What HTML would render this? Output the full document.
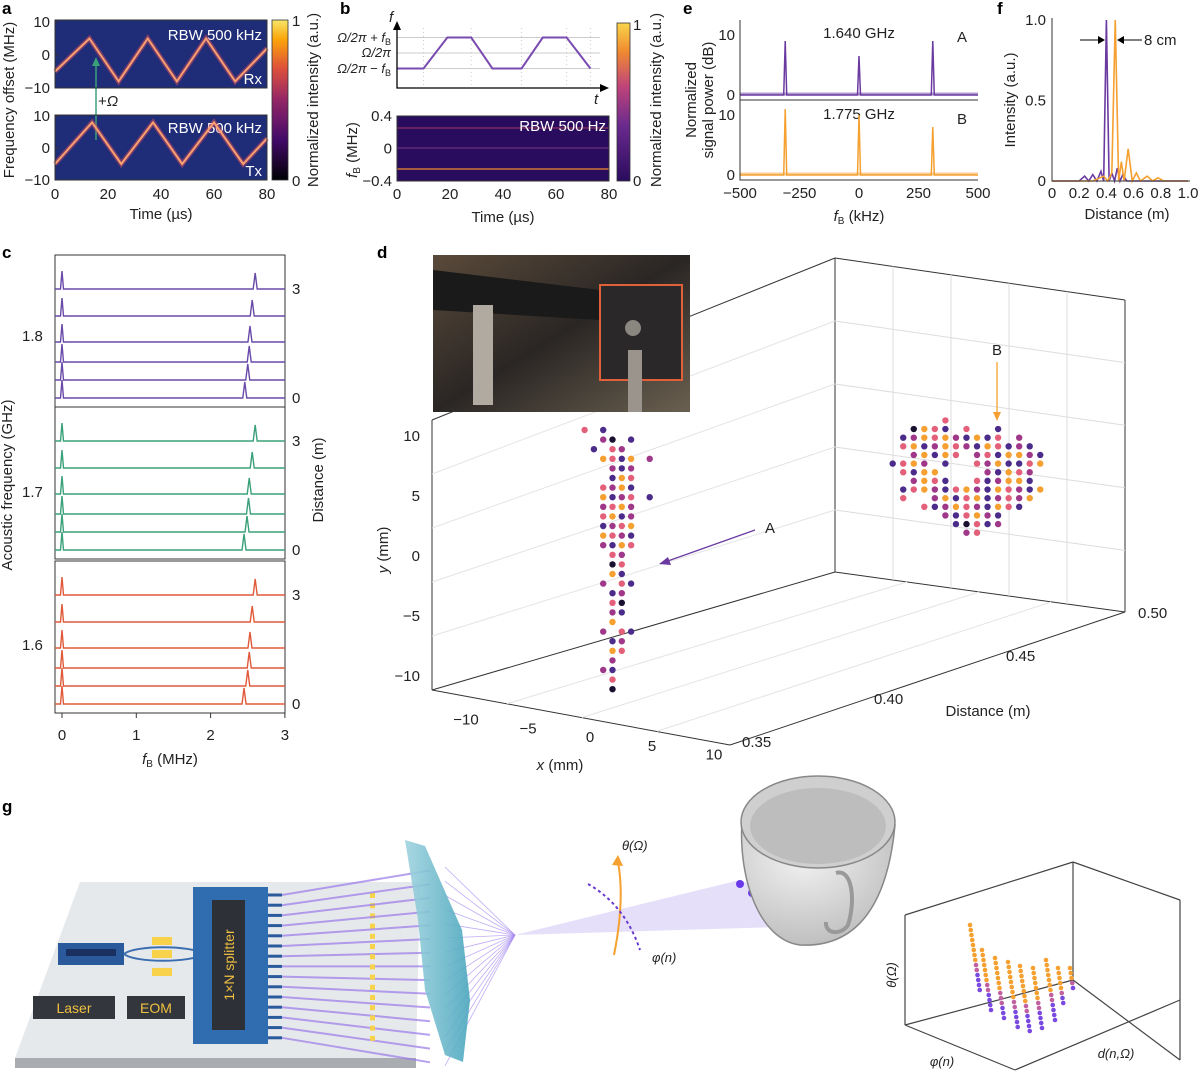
<!DOCTYPE html>
<html><head><meta charset="utf-8">
<style>
html,body{margin:0;padding:0;background:#fff;}
svg{display:block;font-family:"Liberation Sans",Arial,sans-serif;}
.t{font-size:15px;fill:#222;}
.s{font-size:13px;fill:#222;}
.lab{font-size:17px;font-weight:bold;fill:#000;}
.ax{stroke:#333;stroke-width:1.2;fill:none;}
</style></head><body>
<svg id="fig" width="1200" height="1071" viewBox="0 0 1200 1071">
<defs>
<linearGradient id="cbA" x1="0" y1="1" x2="0" y2="0">
<stop offset="0" stop-color="#000004"/><stop offset="0.25" stop-color="#420a68"/><stop offset="0.5" stop-color="#932667"/><stop offset="0.7" stop-color="#dd513a"/><stop offset="0.88" stop-color="#fca50a"/><stop offset="1" stop-color="#f6e66a"/>
</linearGradient>
<linearGradient id="cbB" x1="0" y1="1" x2="0" y2="0">
<stop offset="0" stop-color="#2a0c5e"/><stop offset="0.35" stop-color="#6a2a8e"/><stop offset="0.6" stop-color="#c0447a"/><stop offset="0.82" stop-color="#f08a30"/><stop offset="1" stop-color="#fad54a"/>
</linearGradient>
<linearGradient id="photo" x1="0" y1="0" x2="1" y2="1">
<stop offset="0" stop-color="#5a4a3a"/><stop offset="0.5" stop-color="#2a2624"/><stop offset="1" stop-color="#6a6050"/>
</linearGradient>
<linearGradient id="lens" x1="0" y1="0" x2="1" y2="0">
<stop offset="0" stop-color="#9fd3df"/><stop offset="1" stop-color="#4aa6bd"/>
</linearGradient>
<radialGradient id="cup" cx="0.4" cy="0.3" r="0.8">
<stop offset="0" stop-color="#f2f2f2"/><stop offset="1" stop-color="#b8b8b8"/>
</radialGradient>
</defs>

<text class="lab" x="2" y="14">a</text>
<text class="lab" x="340" y="14">b</text>
<text class="lab" x="683" y="14">e</text>
<text class="lab" x="997" y="14">f</text>
<text class="lab" x="2" y="258">c</text>
<text class="lab" x="377" y="258">d</text>
<text class="lab" x="2" y="812">g</text>

<g id="pa">
<rect x="55" y="20" width="212" height="68" fill="#1f2c78"/>
<rect x="55" y="115" width="212" height="65" fill="#1f2c78"/>
<text x="262" y="40" text-anchor="end" style="font-size:15px;fill:#fff">RBW 500 kHz</text>
<text x="262" y="84" text-anchor="end" style="font-size:15px;fill:#fff">Rx</text>
<text x="262" y="133" text-anchor="end" style="font-size:15px;fill:#fff">RBW 500 kHz</text>
<text x="262" y="176" text-anchor="end" style="font-size:15px;fill:#fff">Tx</text>
<line x1="96" y1="140" x2="96" y2="62" stroke="#3aa07a" stroke-width="1.5"/>
<path d="M92,66 L96,57 L100,66Z" fill="#3aa07a"/>
<text x="98" y="106" class="t">+<tspan font-style="italic">Ω</tspan></text>
<rect x="272" y="20" width="16" height="160" fill="url(#cbA)" stroke="#333" stroke-width="0.8"/>
<text x="292" y="26" class="t">1</text>
<text x="292" y="186" class="t">0</text>
<text transform="translate(318,100) rotate(-90)" text-anchor="middle" class="t">Normalized intensity (a.u.)</text>
<text transform="translate(14,100) rotate(-90)" text-anchor="middle" class="t">Frequency offset (MHz)</text>
<text x="161" y="219" text-anchor="middle" class="t">Time (µs)</text>
</g>

<g id="pb">
<text x="391" y="42" text-anchor="end" class="s" font-style="italic">Ω/2π + f<tspan font-size="9" dy="3" font-style="normal">B</tspan></text>
<text x="391" y="57" text-anchor="end" class="s" font-style="italic">Ω/2π</text>
<text x="391" y="73" text-anchor="end" class="s" font-style="italic">Ω/2π − f<tspan font-size="9" dy="3" font-style="normal">B</tspan></text>
<text x="389" y="22" class="t" font-style="italic">f</text>
<text x="594" y="104" class="t" font-style="italic">t</text>
<rect x="397" y="116" width="212" height="65" fill="#2a0c5e"/>
<line x1="397" y1="128" x2="609" y2="128" stroke="#c0445a" stroke-width="1" opacity="0.8"/>
<line x1="397" y1="148" x2="609" y2="148" stroke="#7a3a8a" stroke-width="1"/>
<line x1="397" y1="169" x2="609" y2="169" stroke="#f08a30" stroke-width="1.3"/>
<text x="606" y="131" text-anchor="end" style="font-size:15px;fill:#fff">RBW 500 Hz</text>
<rect x="617" y="23" width="13" height="158" fill="url(#cbB)" stroke="#333" stroke-width="0.8"/>
<text x="633" y="30" class="t">1</text>
<text x="633" y="186" class="t">0</text>
<text transform="translate(661,100) rotate(-90)" text-anchor="middle" class="t">Normalized intensity (a.u.)</text>
<text transform="translate(357,150) rotate(-90)" text-anchor="middle" class="t"><tspan font-style="italic">f</tspan><tspan font-size="10" dy="3">B</tspan><tspan dy="-3"> (MHz)</tspan></text>
<text x="503" y="222" text-anchor="middle" class="t">Time (µs)</text>
</g>

<text transform="translate(696,100) rotate(-90)" text-anchor="middle" class="t">Normalized</text>
<text transform="translate(713,100) rotate(-90)" text-anchor="middle" class="t">signal power (dB)</text>
<text x="859" y="221" text-anchor="middle" class="t"><tspan font-style="italic">f</tspan><tspan font-size="10" dy="3">B</tspan><tspan dy="-3"> (kHz)</tspan></text>
<text x="859" y="38" text-anchor="middle" class="t">1.640 GHz</text>
<text x="859" y="119" text-anchor="middle" class="t">1.775 GHz</text>
<text x="962" y="42" text-anchor="middle" class="t">A</text>
<text x="962" y="124" text-anchor="middle" class="t">B</text>
<text transform="translate(1015,100) rotate(-90)" text-anchor="middle" class="t">Intensity (a.u.)</text>
<text x="1127" y="219" text-anchor="middle" class="t">Distance (m)</text>
<text x="1144" y="45" class="t">8 cm</text>

<text transform="translate(12,485) rotate(-90)" text-anchor="middle" class="t">Acoustic frequency (GHz)</text>
<text transform="translate(323,480) rotate(-90)" text-anchor="middle" class="t">Distance (m)</text>
<text x="170" y="764" text-anchor="middle" class="t"><tspan font-style="italic">f</tspan><tspan font-size="10" dy="3">B</tspan><tspan dy="-3"> (MHz)</tspan></text>
<text x="22" y="341" class="t">1.8</text>
<text x="22" y="497" class="t">1.7</text>
<text x="22" y="650" class="t">1.6</text>

<g id="pd"></g>
<text transform="translate(388,550) rotate(-90)" text-anchor="middle" class="t"><tspan font-style="italic">y</tspan> (mm)</text>
<text x="560" y="770" text-anchor="middle" class="t"><tspan font-style="italic">x</tspan> (mm)</text>
<text x="988" y="716" text-anchor="middle" class="t">Distance (m)</text>
<text x="765" y="533" class="t">A</text>
<text x="997" y="355" text-anchor="middle" class="t">B</text>

<g id="pg">
<polygon points="15,1058 80,882 420,882 416,1058" fill="#e6e9ec"/>
<polygon points="15,1058 416,1058 416,1068 15,1068" fill="#a9adb1"/>
<rect x="58" y="943" width="66" height="22" fill="#2a5a9c"/>
<rect x="66" y="949" width="50" height="7" fill="#1a3060"/>
<path d="M124,954 C135,945 190,945 205,954 C190,963 135,963 124,954" fill="none" stroke="#3b6eb0" stroke-width="2"/>
<rect x="152" y="937" width="20" height="8" fill="#f7d24a"/>
<rect x="152" y="950" width="20" height="8" fill="#f7d24a"/>
<rect x="152" y="968" width="20" height="8" fill="#f7d24a"/>
<rect x="33" y="996" width="82" height="23" fill="#33363c"/>
<text x="74" y="1013" text-anchor="middle" style="font-size:14px;fill:#f0c040">Laser</text>
<rect x="127" y="996" width="58" height="23" fill="#33363c"/>
<text x="156" y="1013" text-anchor="middle" style="font-size:14px;fill:#f0c040">EOM</text>
<rect x="193" y="887" width="75" height="157" fill="#2f6db0"/>
<rect x="212" y="900" width="33" height="130" fill="#2e3038"/>
<text transform="translate(234,965) rotate(-90)" text-anchor="middle" style="font-size:14px;fill:#f0c040">1×N splitter</text>
<g id="gbeams"></g>
<polygon points="405,840 425,846 462,930 470,1000 463,1062 445,1055 425,990 418,920" fill="url(#lens)" opacity="0.9"/>
<path d="M614,955 Q625,900 618,862" fill="none" stroke="#f5a030" stroke-width="2"/>
<path d="M612,865 L618,855 L623,866Z" fill="#f5a030"/>
<path d="M588,884 Q625,905 640,950" fill="none" stroke="#6a3ad0" stroke-width="2" stroke-dasharray="3,3"/>
<text x="622" y="850" class="s" font-style="italic">θ(Ω)</text>
<text x="652" y="962" class="s" font-style="italic">φ(n)</text>
<path d="M742,820 C738,880 760,940 800,945 C860,948 888,900 895,825 Z" fill="url(#cup)" stroke="#888" stroke-width="1.5"/>
<ellipse cx="818" cy="822" rx="77" ry="46" fill="#cfcfcf" stroke="#888" stroke-width="1.5"/>
<ellipse cx="818" cy="826" rx="68" ry="38" fill="#bdbdbd"/>
<path d="M836,873 C852,868 856,900 848,925 C842,935 825,935 826,922" fill="none" stroke="#999" stroke-width="4"/>
<g id="gbox"></g>
<text transform="translate(896,975) rotate(-90)" text-anchor="middle" class="s" font-style="italic">θ(Ω)</text>
<text x="942" y="1066" text-anchor="middle" class="s" font-style="italic">φ(n)</text>
<text x="1116" y="1058" text-anchor="middle" class="s" font-style="italic">d(n,Ω)</text>
</g>
</svg>

<script>
var NS="http://www.w3.org/2000/svg";
var svg=document.getElementById('fig');
function mk(tag,attrs,parent){var e=document.createElementNS(NS,tag);for(var k in attrs)e.setAttribute(k,attrs[k]);(parent||svg).appendChild(e);return e;}
function txt(x,y,s,anchor,parent){var e=mk('text',{x:x,y:y,'class':'t','text-anchor':anchor||'middle'},parent);e.textContent=s;return e;}

/* ===== Panel a data ===== */
var aXTicks=[0,20,40,60,80];
var aYTicks=[10,0,-10];
var rxTimes=[0,13,24,35,46,57,68,80];
var rxFreqs=[-5,5,-8,5,-8,5,-8,2];
var txTimes=[0,14,25,37,48,60,71,80];
var txFreqs=[-5,8,-5,8,-5,8,-5,3];
var ax=function(t){return 55+t*212/80;};
var ayRx=function(f){return 55-f*3.3;};
var ayTx=function(f){return 148-f*3.2;};
function drawTri(times,freqs,yf,name){
  var pts=times.map(function(t,i){return ax(t)+','+yf(freqs[i]);}).join(' ');
  var g=mk('polyline',{points:pts,fill:'none',stroke:'#e8505a','stroke-width':5,opacity:0.45});
  
  
  var l=mk('polyline',{points:pts,fill:'none',stroke:'#f8a070','stroke-width':2});
  
  
}
drawTri(rxTimes,rxFreqs,ayRx,'rx-chirp-trace');
drawTri(txTimes,txFreqs,ayTx,'tx-chirp-trace');
[[20,88,ayRx],[115,180,ayTx]].forEach(function(p){
  var fr=mk('rect',{x:55,y:p[0],width:212,height:p[1]-p[0],fill:'none',stroke:'#333','stroke-width':1});
  
  
  aYTicks.forEach(function(v){var y=p[2](v);var t=txt(50,y+5,v<0?'−'+(-v):String(v),'end');
    
    
    mk('line',{x1:55,y1:y,x2:59,y2:y,stroke:'#333'});});
});
aXTicks.forEach(function(v){var t=txt(ax(v),199,String(v));
  
  });

/* ===== Panel b data ===== */
var bTimes=[0,10,19,28,36,47,55,64,73];
var bLevels=[-1,-1,1,1,-1,-1,1,1,-1];
var bXTicks=[0,20,40,60,80];
var bYTicks=[0.4,0,-0.4];
var bx=function(t){return 397+t*212/80;};
var by=function(l){return 53-l*15.5;};
[1,0,-1].forEach(function(l){var gl=mk('line',{x1:397,y1:by(l),x2:600,y2:by(l),stroke:'#ccc','stroke-width':1});
  
  });
[10,28,47,64,73].forEach(function(t){mk('line',{x1:bx(t),y1:28,x2:bx(t),y2:88,stroke:'#ccc','stroke-dasharray':'1,3'});});
var bl=mk('polyline',{points:bTimes.map(function(t,i){return bx(t)+','+by(bLevels[i]);}).join(' '),fill:'none',stroke:'#7a4bb0','stroke-width':2});


mk('polyline',{points:'397,24 397,88 605,88',fill:'none',stroke:'#000','stroke-width':1.3});
mk('path',{d:'M393,30 L397,21 L401,30Z',fill:'#000'});
mk('path',{d:'M600,84 L609,88 L600,92Z',fill:'#000'});
var bfr=mk('rect',{x:397,y:116,width:212,height:65,fill:'none',stroke:'#333'});


bYTicks.forEach(function(v){var y=148.5-v*81;var t=txt(392,y+5,v<0?'−'+(-v):String(v),'end');
  
  });
bXTicks.forEach(function(v){var t=txt(bx(v),199,String(v));
  
  });

/* ===== Panel e data ===== */
var eXTicks=[-500,-250,0,250,500];
var ePeakFreqs=[-310,0,310];
var ePeakA=[9,6.5,9];
var ePeakB=[11,10,8];
var ex=function(f){return 740+(f+500)*238/1000;};
function drawE(peaks,y0,color,name){
  var ey=function(v){return y0-v*6;};
  var d='M740,'+ey(0);
  ePeakFreqs.forEach(function(f,i){var x=ex(f);d+=' L'+(x-1.5)+','+ey(0)+' L'+x+','+ey(peaks[i])+' L'+(x+1.5)+','+ey(0);});
  d+=' L978,'+ey(0);
  var p=mk('path',{d:d,fill:'none',stroke:color,'stroke-width':1.5});
  
  
  mk('path',{d:'M740,'+(ey(0)-1)+' L978,'+(ey(0)-1),stroke:color,'stroke-width':3,opacity:0.5});
  [10,0].forEach(function(v){var t=txt(735,ey(v)+5,String(v),'end');
    
    });
}
drawE(ePeakA,95,'#6a3aa0','spectrum-a');
drawE(ePeakB,175,'#f5a030','spectrum-b');
mk('polyline',{points:'740,20 740,180 978,180',fill:'none',stroke:'#333'});
mk('line',{x1:740,y1:100,x2:978,y2:100,stroke:'#333'});
eXTicks.forEach(function(v){var t=txt(ex(v),198,v<0?'−'+(-v):String(v));
  
  });

/* ===== Panel f data ===== */
var fXTicks=[0,0.2,0.4,0.6,0.8,1.0];
var fYTicks=[0,0.5,1.0];
var fPurpleD=[0,0.2,0.24,0.27,0.3,0.33,0.36,0.38,0.40,0.42,0.44,0.46,0.48,0.50,0.52,0.55,0.6,1.0];
var fPurpleI=[0,0,0.03,0,0.04,0,0.06,0,1.0,0,0.05,0,0.08,0,0.04,0,0,0];
var fOrangeD=[0,0.3,0.38,0.41,0.44,0.465,0.49,0.51,0.53,0.56,0.59,0.62,0.65,0.7,0.74,0.78,0.82,1.0];
var fOrangeI=[0,0,0.03,0,0.05,1.0,0,0.12,0,0.2,0,0.05,0,0.03,0,0.02,0,0];
var fx=function(d){return 1052+d*136;};
var fy=function(v){return 181-v*161;};
function drawF(D,I,color,name){
  var p=mk('polyline',{points:D.map(function(d,i){return fx(d)+','+fy(I[i]);}).join(' '),fill:'none',stroke:color,'stroke-width':1.6});
  
  
}
drawF(fPurpleD,fPurpleI,'#6a3aa0','distance-profile-a');
drawF(fOrangeD,fOrangeI,'#f5a030','distance-profile-b');
mk('polyline',{points:'1052,18 1052,181 1190,181',fill:'none',stroke:'#333'});
fXTicks.forEach(function(v){var t=txt(fx(v),198,String(v).replace(/^1$/,'1.0'));
  
  });
fYTicks.forEach(function(v){var t=txt(1046,fy(v)+5,v===1?'1.0':String(v),'end');
  
  });
mk('line',{x1:1080,y1:40,x2:1102,y2:40,stroke:'#000'});mk('path',{d:'M1098,36 L1105,40 L1098,44Z',fill:'#000'});
mk('line',{x1:1120,y1:40,x2:1142,y2:40,stroke:'#000'});mk('path',{d:'M1124,36 L1117,40 L1124,44Z',fill:'#000'});

/* ===== Panel c data ===== */
var cXTicks=[0,1,2,3];
var cPeaks18=[2.6,2.56,2.53,2.52,2.5,2.46];
var cPeaks17=[2.6,2.56,2.52,2.51,2.49,2.45];
var cPeaks16=[2.6,2.56,2.53,2.52,2.5,2.45];
var cOffsets=[0,27,53,73,91,109];
var cx=function(f){return 62+f*74.3;};
function drawC(peaks,top,color,name){
  var fr=mk('rect',{x:55,y:top,width:230,height:152,fill:'none',stroke:'#333'});
  
  
  var base0=top+34;
  peaks.forEach(function(pf,i){
    var y=base0+cOffsets[i];
    var x=cx(pf);
    var d='M55,'+y+' L'+(cx(0)-1.5)+','+y+' L'+cx(0)+','+(y-18)+' L'+(cx(0)+1.5)+','+y+' L'+(x-2)+','+y+' L'+x+','+(y-16)+' L'+(x+2)+','+y+' L285,'+y;
    var p=mk('path',{d:d,fill:'none',stroke:color,'stroke-width':1.4});
    
    
  });
  var t3=txt(292,base0+5,'3','start');
  
  
  var t0=txt(292,base0+cOffsets[5]+5,'0','start');
  
  
}
drawC(cPeaks18,255,'#6a4aa8','group-1.8');
drawC(cPeaks17,407,'#3aa07a','group-1.7');
drawC(cPeaks16,561,'#e05a3a','group-1.6');
cXTicks.forEach(function(v){var t=txt(cx(v),740,String(v));
  
  
  mk('line',{x1:cx(v),y1:713,x2:cx(v),y2:718,stroke:'#333'});});

/* ===== Panel d ===== */
var pd=document.getElementById('pd');
var boxEdges=[[432,420,835,258],[835,258,1125,300],[1125,300,1125,612],[835,258,835,572],[432,690,835,572],[835,572,1125,612],[432,690,730,745],[730,745,1125,612],[432,420,432,690]];
boxEdges.forEach(function(e){var l=mk('line',{x1:e[0],y1:e[1],x2:e[2],y2:e[3],stroke:'#333','stroke-width':1},pd);
  
  });
for(var i=1;i<5;i++){var xx=835+i*58;mk('line',{x1:xx,y1:258+i*8.4,x2:xx,y2:572+i*8,stroke:'#ddd'},pd);}
for(var i=1;i<5;i++){var yy=258+i*63;mk('line',{x1:835,y1:yy,x2:1125,y2:yy+42-i*0.4,stroke:'#ddd'},pd);mk('line',{x1:432,y1:420+i*54,x2:835,y2:258+i*63,stroke:'#e4e4e4'},pd);}
for(var i=1;i<4;i++){mk('line',{x1:432+i*75,y1:690+i*13.75,x2:835+i*72,y2:572+i*10,stroke:'#e4e4e4'},pd);}
var dYTicks=[10,5,0,-5,-10];
dYTicks.forEach(function(v){var t=txt(420,561-v*12,v<0?'−'+(-v):String(v),'end',pd);
  
  });
var dXTicks=[-10,-5,0,5,10];
dXTicks.forEach(function(v){var t=txt(590+v*12.4,742+v*1.75,v<0?'−'+(-v):String(v),'middle',pd);
  
  });
var dZTicks=[0.35,0.40,0.45,0.50];
dZTicks.forEach(function(v,i){var t=txt(742+i*132,747-i*43,v.toFixed(2),'start',pd);
  
  });
var ph=mk('rect',{x:433,y:255,width:257,height:157,fill:'url(#photo)'},pd);


mk('polygon',{points:'433,270 600,290 600,320 433,310',fill:'#1a1a1a'},pd);
mk('rect',{x:600,y:285,width:82,height:95,fill:'#2a2828',stroke:'#e0603a','stroke-width':2},pd);
mk('rect',{x:473,y:305,width:20,height:100,fill:'#b0aaa0'},pd);
mk('rect',{x:628,y:350,width:14,height:62,fill:'#9a948c'},pd);
mk('circle',{cx:633,cy:328,r:8,fill:'#8a8680'},pd);
var dColors=['#1a1030','#4b2c8a','#a0388a','#e4607a','#f5a030'];
var aMaskX0=-3, aMaskY0=10.5;
var aMask=[
"3.1.....",
"..20.1..",
".1.32...",
"..4314.2.",
"...212..",
"...143..",
"..3241..",
"..4123.1",
"..2342..",
"..3412..",
"..1234..",
"..4321..",
"..2143..",
"...32...",
"...03...",
"...41...",
"..2.31..",
"...12...",
"...30...",
"...21...",
"...4....",
"..2.31..",
"...12...",
"...43...",
"...2....",
"..21....",
"...3....",
"...0...."];
var bMaskX0=-7, bMaskY0=11.3;
var bMask=[
"......3..........",
"...0431.3..1.....",
"..1243421413.2...",
"..3412432143121..",
"...24143.2314421.",
".1342.1..3241134.",
"..3144....21432..",
"...2431..312441..",
"..13421342143214.",
"..3..2413412324..",
"....3124321431...",
"......213421.....",
".......10312.....",
"........23......."];
var dx=function(xmm,dist){return 590+xmm*12.4+(dist-0.35)*2650;};
var dy=function(ymm,dist){return 556-ymm*12;};
function drawMask(mask,x0,y0,dist,name,stepX,stepY){
  mask.forEach(function(row,r){
    for(var c=0;c<row.length;c++){var ch=row.charAt(c);if(ch==='.')continue;
      var xmm=x0+c*stepX, ymm=y0-r*stepY;
      var p=mk('circle',{cx:dx(xmm,dist),cy:dy(ymm,dist),r:3.2,fill:dColors[+ch]},pd);
      
      
    }
  });
}
drawMask(aMask,aMaskX0,aMaskY0,0.362,'object-a-point',0.75,0.8);
drawMask(bMask,bMaskX0,bMaskY0,0.493,'object-b-point',0.85,0.72);
var aa=mk('line',{x1:755,y1:530,x2:665,y2:562,stroke:'#6a3aa0','stroke-width':1.3},pd);


mk('path',{d:'M668,557 L659,564 L671,565Z',fill:'#6a3aa0'},pd);
var ba=mk('line',{x1:997,y1:362,x2:997,y2:415,stroke:'#f5a030','stroke-width':1.3},pd);


mk('path',{d:'M993,412 L997,421 L1001,412Z',fill:'#f5a030'},pd);

/* ===== Panel g beams ===== */
var gb=document.getElementById('gbeams');
var gChannels=[0,1,2,3,4,5,6,7,8,9,10,11,12,13,14];
gChannels.forEach(function(i){
  var y=895+i*10.2;
  mk('line',{x1:268,y1:y,x2:282,y2:y,stroke:'#2a5a9c','stroke-width':3},gb);
  var b=mk('line',{x1:282,y1:y,x2:430,y2:y-(7-i)*1.5+(i-7)*2,stroke:'#9a7ae8','stroke-width':2,opacity:0.7},gb);
  
  
  mk('rect',{x:370,y:y-2,width:5,height:5,fill:'#f7d24a'},gb);
  mk('line',{x1:445,y1:y-(7-i)*4,x2:515,y2:935,stroke:'#a68af0','stroke-width':0.8,opacity:0.7},gb);
});
mk('polygon',{points:'515,935 740,880 845,925',fill:'#c8b8f4',opacity:0.45},gb);
var cupPts=[[740,884],[752,893],[770,902],[788,910],[805,914],[828,920],[842,923]];
cupPts.forEach(function(p){var c=mk('circle',{cx:p[0],cy:p[1],r:4,fill:'#6a3ae8'},gb);
  
  });

var gx=document.getElementById('gbox');
[[905,915,1073,862],[1073,862,1180,900],[1180,900,1180,1060],[1073,862,1073,980],[905,915,905,1025],[905,1025,1073,980],[1073,980,1180,1060],[905,1025,1015,1070],[1015,1070,1180,1000]].forEach(function(e){
  var l=mk('line',{x1:e[0],y1:e[1],x2:e[2],y2:e[3],stroke:'#444','stroke-width':1.2},gx);
  
  });
var gColsX=[970,982,995,1008,1020,1033,1046,1058,1070];
var gColsTop=[925,950,958,962,966,968,960,968,968];
var gColsBot=[990,1010,1020,1028,1032,1028,1020,1005,990];
gColsX.forEach(function(x,i){
  for(var y=gColsTop[i];y<=gColsBot[i];y+=5){
    var f=(y-gColsTop[i])/(gColsBot[i]-gColsTop[i]);
    var c=mk('circle',{cx:x+(y-gColsTop[i])*0.15,cy:y,r:2.3,fill:f<0.55?'#f5a030':(f<0.75?'#c060a0':'#7a4ae0')},gx);
    
    
  }
});
</script>
</body></html>
